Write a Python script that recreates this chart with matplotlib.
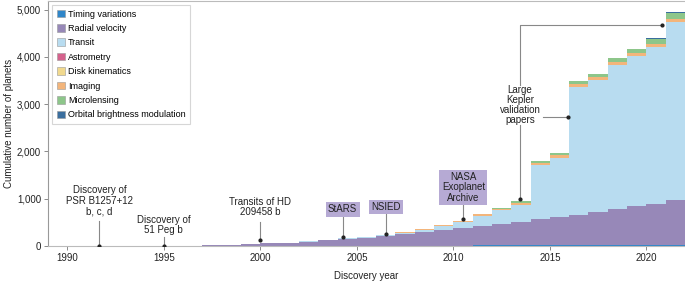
import matplotlib.pyplot as plt
import numpy as np
from matplotlib.patches import Patch

plt.rcParams['font.family'] = ['Liberation Sans', 'DejaVu Sans']

years = list(range(1989, 2022))

# cumulative planets per method (end of each discovery year), 1989..2021
timing = [0, 0, 0, 2, 2, 3, 3, 3, 3, 3, 3, 3, 3, 3, 4, 4, 4, 4, 5, 7, 8, 10,
          13, 14, 16, 17, 18, 20, 21, 22, 23, 24, 26]
radial_velocity = [0, 0, 0, 0, 0, 0, 1, 7, 9, 18, 35, 55, 70, 92, 118, 148, 175,
                   203, 240, 280, 333, 370, 420, 455, 495, 555, 595, 645, 700,
                   765, 830, 870, 950]
transit = [0, 0, 0, 0, 0, 0, 0, 0, 0, 0, 1, 1, 1, 2, 3, 8, 12, 20, 40, 60, 85,
           120, 205, 285, 365, 1145, 1255, 2705, 2790, 3045, 3165, 3315, 3760]
astrometry = [0] * 24 + [1, 1, 1, 1, 1, 1, 1, 1, 2]
disk_kinematics = [0] * 30 + [1, 1, 1]
imaging = [0] * 15 + [3, 5, 7, 8, 16, 18, 26, 30, 36, 42, 46, 48, 50, 52, 54,
                      56, 58, 60]
microlensing = [0] * 15 + [1, 3, 4, 4, 7, 8, 12, 13, 18, 25, 32, 40, 62, 70, 80,
                           90, 110, 130]
orbital_brightness = [0] * 22 + [1, 2, 4, 5, 6, 6, 6, 7, 9, 9, 9]

methods = ['Timing variations', 'Radial velocity', 'Transit', 'Astrometry',
           'Disk kinematics', 'Imaging', 'Microlensing',
           'Orbital brightness modulation']
colors = ['#2f86c9', '#9788b8', '#b8dcf0', '#d5628d', '#f1d98e', '#f3b57b',
          '#8dc68a', '#3a6e9e']

# milestone markers: (year, value, label, line top, text bottom)
plain_notes = [
    (1991.66, 0, 'Discovery of\nPSR B1257+12\nb, c, d', 535, 634),
    (1995.0, 0, 'Discovery of\n51 Peg b', 190, 233),
    (2000.0, 127, 'Transits of HD\n209458 b', 514, 607),
]
# boxed milestones: (year, value, label, box centre)
box_notes = [
    (2004.26, 197, 'StARS', 772),
    (2006.52, 254, 'NSIED', 825),
    (2010.52, 564, 'NASA\nExoplanet\nArchive', 1240),
]

x = np.array(years + [2022])
stack = [np.array(s + [s[-1]]) for s in [timing, radial_velocity, transit,
                                         astrometry, disk_kinematics, imaging,
                                         microlensing, orbital_brightness]]

fig = plt.figure(figsize=(6.85, 2.81), dpi=100)
ax = fig.add_axes([48 / 685, 1 - 246 / 281, 1 - 48 / 685, 245 / 281])

ax.stackplot(x, stack, colors=colors, step='post', linewidth=0)

ax.set_xlim(1989, 2022)
ax.set_ylim(0, 5180)
ax.set_xticks([1990, 1995, 2000, 2005, 2010, 2015, 2020])
ax.set_yticks([0, 1000, 2000, 3000, 4000, 5000])
ax.set_yticklabels(['0', '1,000', '2,000', '3,000', '4,000', '5,000'])
ax.tick_params(labelsize=7, length=3, width=0.6, color='#777777',
               labelcolor='#222222', pad=2)
for s in ['top', 'bottom', 'left']:
    ax.spines[s].set_color('#bbbbbb')
    ax.spines[s].set_linewidth(0.8)
ax.spines['left'].set_color('#999999')
ax.spines['right'].set_visible(False)

ax.set_xlabel('Discovery year', fontsize=7, color='#222222', labelpad=6)
ax.set_ylabel('Cumulative number of planets', fontsize=7, color='#222222',
              labelpad=2)

lc = '#222222'
for yr, val, label, ltop, tbot in plain_notes:
    ax.plot([yr, yr], [val, ltop], color='#888888', lw=0.8, zorder=5)
    ax.plot(yr, val, 'o', color=lc, ms=2, zorder=6)
    ax.text(yr, tbot, label, ha='center', va='bottom', fontsize=7,
            color=lc, linespacing=1.05)

for yr, val, label, ty in box_notes:
    ax.plot([yr, yr], [val, ty], color='#888888', lw=0.8, zorder=5)
    ax.plot(yr, val, 'o', color=lc, ms=2, zorder=6)
    ax.text(yr, ty, label, ha='center', va='center', fontsize=7, color=lc,
            linespacing=1.05, zorder=7,
            bbox=dict(boxstyle='square,pad=0.25', fc='#b6aad4', ec='none'))

# Kepler validation papers callout
kx, ky = 2013.45, 2981
ax.text(kx, ky, 'Large\nKepler\nvalidation\npapers', ha='center',
        va='center', fontsize=7, color=lc, linespacing=1.0)
ax.plot([kx, kx, 2020.83], [3400, 4672, 4672], color='#888888', lw=0.8)
ax.plot([2014.66, 2015.96], [2721, 2721], color='#888888', lw=0.8)
ax.plot([kx, kx], [2560, 987], color='#888888', lw=0.8)
ax.plot([2020.83, 2015.96, kx], [4672, 2721, 987], 'o', color=lc, ms=2,
        zorder=6)

handles = [Patch(facecolor=c, edgecolor='#999999', linewidth=0.4)
           for c in colors]
leg = ax.legend(handles, methods, loc='upper left',
                bbox_to_anchor=(4 / 637, 1 - 4 / 245), fontsize=6.5,
                frameon=True, fancybox=False, edgecolor='#cccccc',
                handlelength=0.9, handleheight=0.9, handletextpad=0.35,
                labelspacing=0.6, borderpad=0.5, borderaxespad=0)
leg.get_frame().set_linewidth(0.8)

fig.savefig('out.png', dpi=100)
